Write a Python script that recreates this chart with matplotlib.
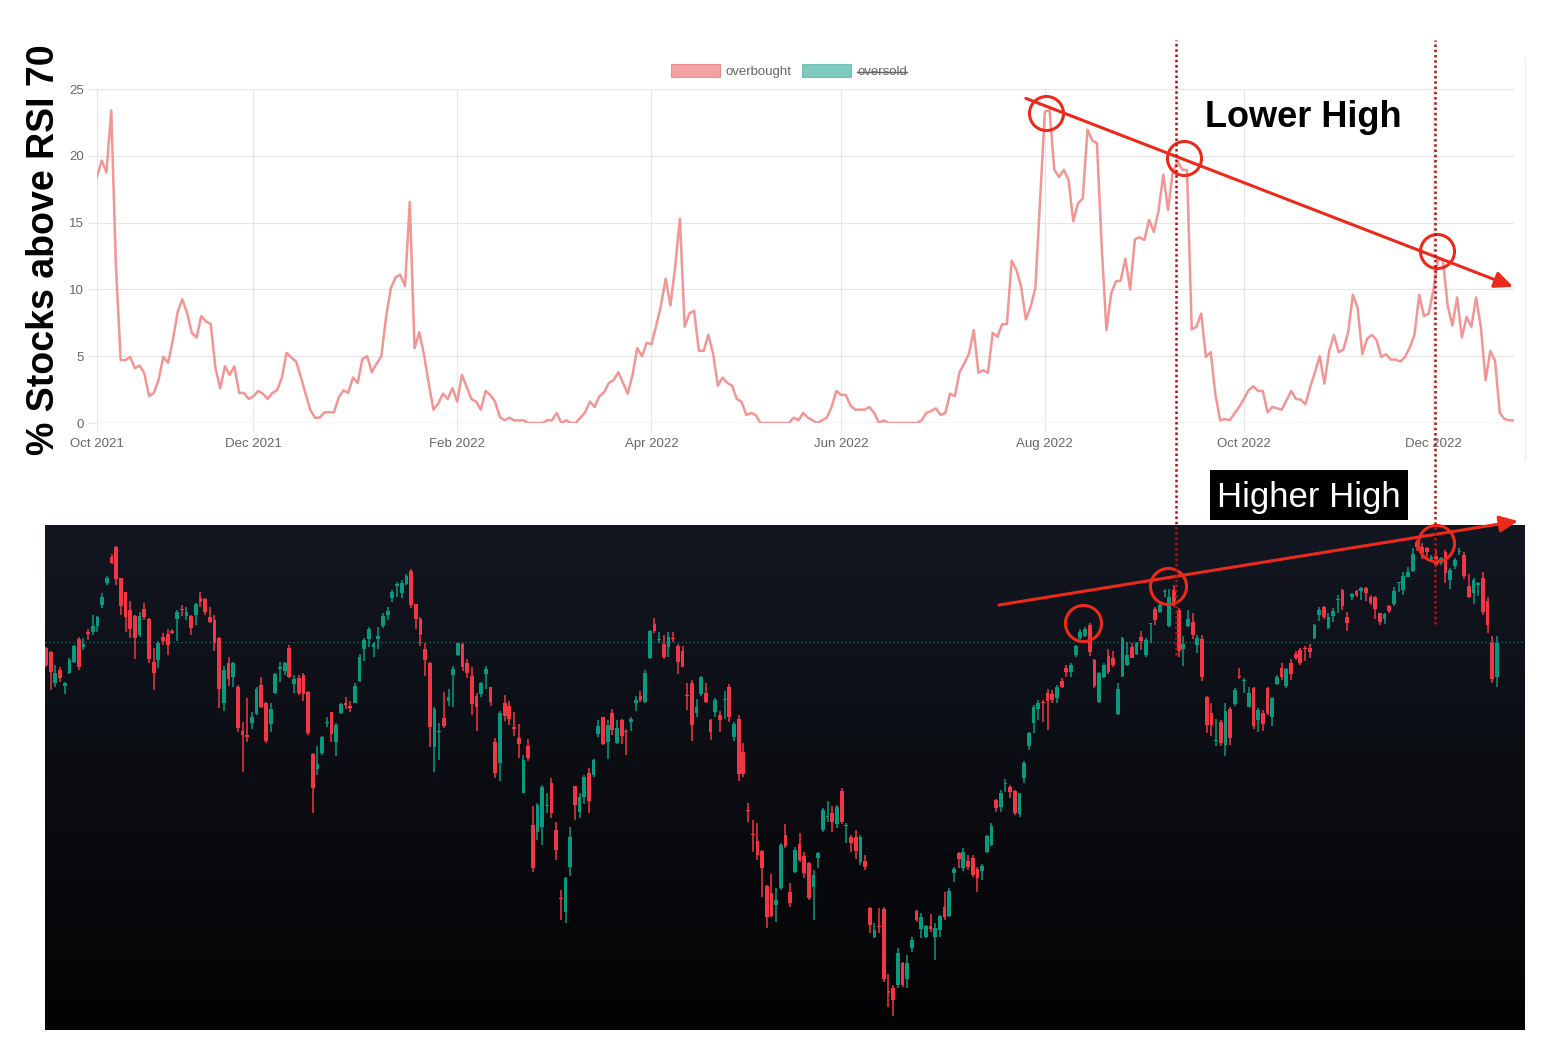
import numpy as np
import pandas as pd
import matplotlib
matplotlib.use("Agg")
import matplotlib.pyplot as plt
from matplotlib.patches import Patch, Rectangle
from matplotlib.lines import Line2D
from matplotlib.colors import LinearSegmentedColormap

plt.rcParams['font.family'] = ['Liberation Sans', 'DejaVu Sans']

# ---- top chart: % of stocks above RSI 70 (one value per trading day) ----
overbought = [
    18.45, 19.65, 18.75, 23.4, 11.7, 4.7, 4.7, 4.95, 4.1, 4.3,
    3.7, 2.0, 2.25, 3.25, 4.95, 4.5, 6.2, 8.3, 9.25, 8.25,
    6.75, 6.4, 8.0, 7.6, 7.4, 4.1, 2.6, 4.25, 3.6, 4.25,
    2.25, 2.25, 1.8, 2.0, 2.4, 2.2, 1.8, 2.25, 2.45, 3.4,
    5.25, 4.9, 4.6, 3.45, 2.2, 1.0, 0.4, 0.4, 0.8, 0.8,
    0.8, 1.9, 2.45, 2.25, 3.4, 3.0, 4.8, 5.0, 3.8, 4.45,
    5.0, 7.95, 10.1, 10.9, 11.1, 10.25, 16.55, 5.6, 6.8, 5.1,
    2.95, 1.0, 1.45, 2.2, 1.8, 2.6, 1.6, 3.6, 2.7, 1.8,
    1.6, 1.0, 2.4, 2.1, 1.6, 0.45, 0.2, 0.4, 0.2, 0.2,
    0.2, 0, 0, 0, 0, 0.2, 0.2, 0.75, 0, 0.2,
    0, 0, 0.4, 0.8, 1.6, 1.2, 2.0, 2.3, 3.0, 3.2,
    3.8, 3.0, 2.2, 3.6, 5.6, 5.0, 6.0, 5.9, 7.3, 8.8,
    10.8, 8.8, 11.7, 15.3, 7.2, 8.2, 8.4, 5.4, 5.4, 6.6,
    5.2, 2.8, 3.4, 3.0, 2.8, 1.8, 1.6, 0.6, 0.75, 0.6,
    0, 0, 0, 0, 0, 0, 0, 0.4, 0.2, 0.75,
    0.4, 0.2, 0, 0.2, 0.4, 1.2, 2.4, 2.1, 2.1, 1.3,
    1.0, 1.0, 1.0, 1.2, 0.75, 0, 0.2, 0, 0, 0,
    0, 0, 0, 0, 0.2, 0.75, 0.9, 1.1, 0.6, 0.75,
    2.2, 2.0, 3.8, 4.45, 5.2, 6.95, 3.75, 3.95, 3.75, 6.75,
    6.45, 7.4, 7.4, 12.15, 11.45, 10.2,
    7.75, 8.7, 10.1, 16.7, 23.3, 23.4, 18.95, 18.4, 18.95, 18.2,
    15.1, 16.45, 16.8, 21.95, 21.15, 20.95, 13.2, 6.95, 9.7, 10.6,
    10.65, 12.3, 10.0, 13.75, 13.9, 13.7, 15.2, 14.3, 15.9, 18.6,
    15.95, 18.8, 19.6, 18.95, 18.95, 7.0, 7.2, 8.2, 4.95, 5.3,
    2.1, 0.2, 0.3, 0.2, 0.7, 1.2, 1.8, 2.45, 2.75, 2.4,
    2.4, 0.8, 1.2, 1.1, 1.0, 1.7, 2.4, 1.8, 1.75, 1.4,
    2.7, 3.8, 5.0, 2.95, 5.4, 6.6, 5.3, 5.5, 6.8, 9.6,
    8.6, 5.15, 6.3, 6.6, 6.2, 4.95, 5.15, 4.75, 4.75, 4.6,
    4.95, 5.65, 6.6, 9.6, 8.0, 8.2, 9.95, 12.3, 12.2, 8.8,
    7.3, 9.4, 6.4, 7.95, 7.2, 9.4, 7.2, 3.2, 5.4, 4.65,
    0.75, 0.3, 0.2, 0.2]
series_names = ['overbought', 'oversold']
y_ticks = [0, 5, 10, 15, 20, 25]
# trading-day index of the first session of each labelled month
tick_pos = [0, 33, 76, 117, 157, 200, 242, 282]
tick_labels = ['Oct 2021', 'Dec 2021', 'Feb 2022', 'Apr 2022',
               'Jun 2022', 'Aug 2022', 'Oct 2022', 'Dec 2022']

# lower highs in the breadth line, and the two divergence sessions
breadth_peak_idx = [200.3, 229.4, 282.8]
breadth_peak_vals = [23.2, 19.8, 12.9]
trend_top = [(196.0, 24.3), (298.8, 10.2)]
divergence_idx = [227.7, 282.3]

# ---- bottom chart: daily candles (index level, arbitrary units) ----
opens = [
    382, 378, 347, 360, 344, 357, 368, 391, 383, 398,
    398, 404, 425, 447, 473, 483, 452, 438, 420, 414,
    395, 421, 411, 368, 370, 393, 396, 399, 411, 421,
    414, 414, 415, 432, 431, 413, 410, 392, 327, 367,
    353, 343, 299, 295, 307, 316, 345, 327, 306, 337,
    361, 359, 382,
    346, 352, 355, 338, 276, 261, 277, 307, 318, 288,
    317, 327, 324, 327, 349, 381, 391, 383, 391, 404,
    415, 432, 444, 437, 446, 459, 426, 411, 381, 367,
    283, 298, 312, 329, 355, 375, 386, 367, 354, 334,
    336, 356, 343, 288, 267, 327, 324, 303, 292, 237,
    284, 205, 198,
    203, 224, 247, 200, 132, 118, 163, 244, 218, 233,
    257, 255, 296, 313, 288, 317, 287, 310, 299, 308,
    327, 334, 328, 372, 406, 390, 386, 383, 392, 384,
    379, 335, 347, 317, 336, 337, 310, 318, 315, 330,
    343, 293, 311, 278, 220, 196, 189, 179, 144, 137,
    125, 142, 195, 138, 158, 186, 174, 167, 143, 172,
    200, 213, 217, 206, 239, 204, 193, 193, 168, 169,
    122, 93, 104, 121, 39, 42, 45, 67, 51, 82,
    119, 101, 93, 104, 93, 100, 123, 114, 157, 177,
    162, 169, 172, 161, 159, 178, 185, 230, 223, 246,
    243, 239, 216, 252, 284, 307, 321, 328, 337, 336,
    332,
    349, 362, 358, 375, 392, 394, 405, 370, 328, 353,
    374, 372, 316, 354, 365, 383, 376, 393, 375, 406,
    421, 418, 438, 404, 440, 420, 381, 404, 408, 385,
    391, 333, 317, 289, 308, 285, 321, 326, 354, 349,
    323, 342,
    310, 317, 342, 313, 346, 362, 344, 367, 376, 380,
    382, 382, 392, 415, 423, 402, 414, 430, 440, 413,
    433, 439, 439, 442, 433, 433, 417, 411, 424, 426,
    447, 440, 453, 459, 488, 483, 482, 471, 474, 467,
    478, 450, 464, 478, 475, 444, 437, 445, 452, 429,
    387, 353]
closes = [
    365, 358, 357, 352, 347, 370, 384, 363, 386, 396,
    404, 413, 433, 452, 467, 451, 424, 413, 401, 392,
    414, 413, 371, 357, 387, 389, 385, 397, 418, 420,
    418, 402, 426, 428, 418, 408, 387, 341, 360, 351,
    367, 302, 295, 293, 313, 341, 323, 289, 321, 356,
    363, 367, 353,
    351, 337, 336, 297, 242, 266, 293, 308, 296, 305,
    326, 325, 322, 344, 373, 390, 401, 386, 394, 414,
    419, 438, 446, 447, 454, 425, 411, 395, 370, 303,
    321, 299, 304, 333, 361, 387, 363, 357, 326, 323,
    347, 361, 328, 257, 317, 314, 311, 301, 286, 270,
    272, 162, 225,
    243, 225, 217, 180, 131, 152, 193, 225, 233, 253,
    229, 270, 304, 286, 305, 300, 302, 294, 298, 311,
    330, 330, 357, 399, 399, 391, 373, 393, 391, 368,
    363, 334, 305, 323, 353, 328, 298, 330, 310, 331,
    313, 306, 256, 256, 219, 195, 175, 162, 113, 114,
    130, 185, 184, 127, 180, 170, 157, 132, 155, 177,
    220, 214, 208, 223, 208, 205, 187, 179, 193, 163,
    105, 100, 103, 51, 37, 30, 77, 45, 67, 90,
    110, 113, 104, 101, 102, 114, 113, 139, 161, 171,
    178, 163, 155, 152, 164, 194, 204, 222, 237, 247,
    238, 217, 237, 267, 297, 323, 327, 327, 329, 330,
    343,
    343, 358, 365, 384, 398, 401, 378, 344, 357, 365,
    358, 365, 341, 392, 375, 372, 387, 389, 390, 406,
    410, 425, 438, 433, 426, 379, 386, 411, 395, 392,
    353, 305, 305, 290, 287, 319, 292, 340, 353, 350,
    337, 304,
    320, 306, 317, 332, 353, 353, 361, 356, 372, 367,
    381, 378, 405, 420, 413, 413, 419, 430, 424, 407,
    436, 435, 442, 437, 427, 421, 408, 416, 419, 439,
    447, 454, 458, 476, 483, 477, 478, 473, 465, 472,
    457, 460, 470, 478, 454, 433, 450, 447, 418, 405,
    351, 387]
highs = [
    383, 379, 365, 363, 348, 372, 385, 393, 392, 401,
    415, 414, 437, 454, 476, 484, 452, 438, 429, 415,
    418, 427, 412, 382, 389, 397, 401, 401, 420, 425,
    423, 415, 427, 438, 432, 423, 415, 393, 364, 373,
    368, 345, 308, 332, 318, 343, 353, 328, 327, 357,
    368, 368, 385,
    355, 355, 357, 339, 277, 284, 294, 313, 318, 307,
    327, 333, 329, 347, 376, 392, 403, 388, 403, 417,
    423, 440, 448, 450, 456, 461, 426, 413, 387, 368,
    323, 307, 338, 341, 364, 387, 387, 371, 363, 337,
    348, 364, 343, 292, 319, 335, 329, 318, 306, 275,
    291, 224, 227,
    245, 237, 252, 208, 140, 153, 203, 244, 237, 255,
    262, 271, 310, 313, 310, 321, 310, 311, 301, 313,
    334, 339, 360, 400, 412, 398, 395, 398, 398, 386,
    384, 347, 350, 331, 354, 347, 311, 332, 319, 339,
    346, 308, 315, 287, 227, 210, 207, 180, 145, 156,
    142, 187, 206, 147, 183, 197, 178, 168, 160, 178,
    222, 229, 224, 225, 242, 207, 195, 200, 195, 175,
    123, 107, 122, 123, 56, 45, 82, 68, 75, 93,
    120, 117, 105, 116, 107, 115, 138, 142, 163, 178,
    182, 175, 175, 163, 166, 195, 207, 231, 240, 251,
    245, 240, 237, 269, 298, 325, 330, 330, 341, 340,
    345,
    352, 365, 367, 385, 401, 403, 407, 371, 358, 367,
    381, 379, 347, 393, 388, 387, 388, 399, 392, 407,
    423, 427, 441, 441, 445, 422, 394, 420, 417, 395,
    395, 334, 327, 311, 310, 327, 323, 342, 362, 352,
    343, 343,
    322, 320, 343, 333, 355, 367, 362, 371, 379, 382,
    384, 386, 406, 423, 424, 417, 422, 435, 441, 418,
    437, 440, 443, 443, 435, 434, 417, 417, 425, 443,
    448, 458, 463, 482, 490, 487, 483, 475, 480, 473,
    480, 462, 472, 482, 478, 456, 452, 448, 458, 433,
    394, 394]
lows = [
    363, 340, 343, 348, 336, 356, 367, 360, 380, 390,
    395, 398, 422, 445, 466, 445, 415, 398, 392, 371,
    393, 410, 367, 340, 362, 385, 375, 396, 389, 414,
    410, 395, 405, 423, 415, 407, 379, 322, 319, 344,
    343, 298, 258, 288, 301, 315, 322, 287, 298, 336,
    348, 355, 352,
    337, 335, 329, 295, 217, 255, 275, 303, 288, 274,
    316, 321, 318, 327, 348, 369, 383, 373, 381, 402,
    410, 428, 433, 432, 445, 422, 401, 384, 354, 283,
    258, 270, 302, 324, 323, 374, 359, 352, 315, 299,
    333, 341, 324, 252, 249, 309, 305, 294, 272, 237,
    269, 158, 190,
    185, 217, 212, 170, 110, 107, 154, 210, 212, 226,
    217, 253, 293, 285, 271, 295, 286, 286, 275, 299,
    319, 328, 327, 371, 397, 387, 371, 373, 388, 356,
    363, 320, 289, 313, 334, 327, 290, 313, 298, 311,
    308, 289, 249, 253, 208, 178, 170, 133, 102, 113,
    108, 140, 182, 123, 157, 168, 152, 130, 110, 162,
    198, 208, 198, 202, 206, 187, 178, 171, 165, 160,
    97, 92, 97, 48, 23, 14, 42, 43, 42, 78,
    108, 92, 92, 98, 70, 93, 110, 113, 148, 162,
    159, 160, 153, 138, 150, 177, 184, 218, 218, 238,
    232, 215, 213, 247, 280, 297, 310, 308, 300, 327,
    327,
    342, 353, 353, 373, 390, 393, 374, 342, 327, 352,
    356, 363, 315, 353, 364, 372, 375, 380, 373, 387,
    405, 417, 433, 403, 423, 373, 364, 403, 391, 377,
    349, 297, 294, 284, 284, 274, 285, 324, 351, 337,
    323, 301,
    298, 299, 315, 304, 345, 350, 342, 350, 370, 365,
    369, 372, 391, 409, 411, 401, 408, 417, 420, 399,
    430, 433, 430, 429, 425, 411, 405, 406, 417, 424,
    438, 435, 453, 458, 479, 471, 473, 468, 463, 465,
    447, 441, 461, 475, 451, 432, 426, 434, 415, 397,
    347, 343]
ref_level = 388
price_peak_idx = [221.6, 239.7, 297.0]
price_peak_lvl = [407, 444, 487]
trend_bottom = [(203.6, 425), (314.5, 509)]

RED = '#EC2A1B'
CANDLE_UP = '#089981'
CANDLE_DN = '#F23645'
ARROW = dict(arrowstyle='-|>,head_length=0.55,head_width=0.25', color=RED,
             lw=2.2, mutation_scale=20, shrinkA=0, shrinkB=0)

W, H = 1564, 1048
fig = plt.figure(figsize=(W / 100, H / 100), dpi=100)

# ================= top chart =================
ax_top = fig.add_axes([97 / W, 1 - 423 / H, (1514 - 97) / W, (423 - 89) / H])
days = np.arange(len(overbought))
ax_top.plot(days, overbought, color='#F29595', lw=1.8,
            solid_joinstyle='round', zorder=3)
ax_top.set_xlim(days[0], days[-1])
ax_top.set_ylim(0, 25)
ax_top.set_yticks(y_ticks)
ax_top.set_xticks(tick_pos)
ax_top.set_xticklabels(tick_labels)
ax_top.grid(True, color='#e6e6e6', lw=0.8)
ax_top.set_axisbelow(True)
for s in ax_top.spines.values():
    s.set_visible(False)
ax_top.axhline(0, color='#d2d2d2', lw=1.0, zorder=1)
ax_top.tick_params(length=6.5, width=0.8, color='#e6e6e6',
                   labelcolor='#666666', labelsize=9.5)
ax_top.tick_params(axis='y', pad=3)
ax_top.tick_params(axis='x', pad=4)
ax_top.patch.set_visible(False)
ax_top.set_zorder(3)

# circles on the lower highs and the falling trend arrow
ax_top.plot(breadth_peak_idx, breadth_peak_vals, 'o', ms=24.5, mfc='none',
            mec=RED, mew=2.2, clip_on=False, zorder=6)
(t0x, t0v), (t1x, t1v) = trend_top
ax_top.annotate('', xy=(t1x, t1v), xytext=(t0x, t0v), arrowprops=ARROW,
                annotation_clip=False, zorder=6)

# dotted guides spanning both charts
for d, ylo in zip(divergence_idx, [-0.695, -0.602]):
    ax_top.axvline(d, ymin=ylo, ymax=1.147, color='#B5100B', lw=1.8,
                   ls=(0, (1, 1.1)), clip_on=False, zorder=7)

handles = [Patch(facecolor='#F4A2A2', edgecolor='#EE8E8E', lw=0.8),
           Patch(facecolor='#80CBC0', edgecolor='#6EC2B5', lw=0.8)]
leg = fig.legend(handles, series_names, loc='center',
                 bbox_to_anchor=(789 / W, 1 - 71 / H), ncol=2, frameon=False,
                 fontsize=9.5, handlelength=3.7, handleheight=1.2,
                 handletextpad=0.45, columnspacing=0.8, labelcolor='#666666')

fig.text(44 / W, 1 - 250 / H, '% Stocks above RSI 70', rotation=90,
         fontsize=27, weight='bold', ha='center', va='center')
fig.text(1205 / W, 1 - 127 / H, 'Lower High', fontsize=26, weight='bold',
         ha='left', va='baseline')
fig.add_artist(Line2D([1525 / W, 1525 / W], [1 - 57 / H, 1 - 460 / H],
                      color='#eeeeee', lw=1, transform=fig.transFigure))

# ================= bottom chart =================
ax_bot = fig.add_axes([45 / W, 1 - 1030 / H, 1480 / W, 505 / H])
ax_bot.set_zorder(1)
xl = (-0.21, 316.0)
bg = LinearSegmentedColormap.from_list('bg', ['#131722', '#0b0d12', '#030304'])
ax_bot.imshow(np.linspace(0, 1, 256)[:, None], cmap=bg, aspect='auto',
              extent=[xl[0], xl[1], 0, 505], origin='upper', zorder=0)

o = np.array(opens, float)
c = np.array(closes, float)
hi = np.maximum(np.array(highs, float), np.maximum(o, c))
lo = np.minimum(np.array(lows, float), np.minimum(o, c))
idx = np.arange(len(o))
cols = np.where(c >= o, CANDLE_UP, CANDLE_DN)
ax_bot.vlines(idx, lo, hi, colors=cols, lw=1.1, zorder=2)
ax_bot.bar(idx, np.maximum(np.abs(c - o), 1.4), bottom=np.minimum(o, c),
           width=0.8, color=cols, linewidth=0, zorder=3)
ax_bot.axhline(ref_level, color='#2b7a72', lw=0.9, ls=(0, (1, 2.2)), zorder=1)

ax_bot.plot(price_peak_idx, price_peak_lvl, 'o', ms=26, mfc='none', mec=RED,
            mew=2.2, clip_on=False, zorder=6)
(b0x, b0y), (b1x, b1y) = trend_bottom
ax_bot.annotate('', xy=(b1x, b1y), xytext=(b0x, b0y), arrowprops=ARROW,
                annotation_clip=False, zorder=6)
ax_bot.set_xlim(*xl)
ax_bot.set_ylim(0, 505)
ax_bot.set_axis_off()

fig.add_artist(Rectangle((1210 / W, 1 - 520 / H), 198 / W, 50 / H,
                         transform=fig.transFigure, facecolor='black',
                         edgecolor='none', zorder=4))
fig.text(1309 / W, 1 - 507 / H, 'Higher High', color='white', fontsize=25,
         ha='center', va='baseline', zorder=5)

# strike through the hidden series in the legend
fig.canvas.draw()
bb = leg.get_texts()[1].get_window_extent()
ym = bb.y0 + 0.55 * bb.height
fig.add_artist(Line2D([bb.x0 / W, bb.x1 / W], [ym / H, ym / H], color='#666666',
                      lw=1.0, transform=fig.transFigure))

fig.savefig('out.png', dpi=100)
